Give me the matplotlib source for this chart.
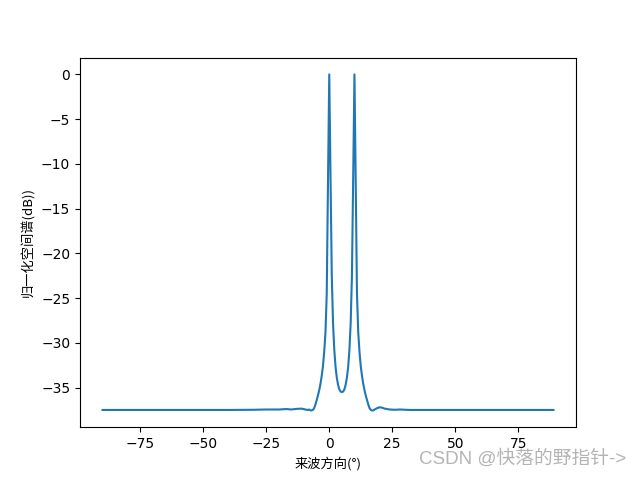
import numpy as np
import matplotlib
matplotlib.use("Agg")
import matplotlib.pyplot as plt

CJK = ['Noto Sans CJK SC', 'DejaVu Sans']

# far-field baseline left of the peaks (deg, dB)
left_deg = [-90, -60, -40, -30, -25, -20, -17, -15, -13, -11, -9.5, -8.5]
left_db = [-37.5, -37.5, -37.5, -37.48, -37.45, -37.45, -37.4, -37.45, -37.38, -37.35, -37.45, -37.5]

# twin peaks at 0 deg and 10 deg, 0.5 deg steps from -8 to 18
peak_deg = [-8, -7.5, -7, -6.5, -6, -5.5, -5, -4.5, -4, -3.5, -3, -2.5, -2, -1.5, -1, -0.5,
            0, 0.5, 1, 1.5, 2, 2.5, 3, 3.5, 4, 4.5, 5, 5.5, 6, 6.5, 7, 7.5, 8, 8.5, 9, 9.5,
            10, 10.5, 11, 11.5, 12, 12.5, 13, 13.5, 14, 14.5, 15, 15.5, 16, 16.5, 17, 17.5, 18]
peak_db = [-37.45, -37.55, -37.55, -37.5, -37.3, -36.9, -36.4, -35.9, -35.3, -34.6, -33.7, -32.6,
           -31.0, -28.8, -24.5, -12.0,
           0.0, -11.5, -22.5, -27.8, -30.8, -32.7, -33.9, -34.7, -35.2, -35.45, -35.5, -35.45,
           -35.2, -34.7, -33.9, -32.7, -30.8, -27.8, -22.5, -11.5,
           0.0, -12.0, -24.5, -28.8, -31.0, -32.6, -33.7, -34.6, -35.3, -35.9, -36.4, -36.9,
           -37.3, -37.5, -37.55, -37.55, -37.45]

# baseline right of the peaks
right_deg = [19, 20, 21, 22, 24, 26, 28, 32, 40, 60, 89]
right_db = [-37.3, -37.2, -37.25, -37.35, -37.45, -37.48, -37.45, -37.5, -37.5, -37.5, -37.5]

theta = np.array(left_deg + peak_deg + right_deg)
spec = np.array(left_db + peak_db + right_db)

fig = plt.figure(figsize=(6.4, 4.8), dpi=100)
plt.plot(theta, spec)
plt.xlabel('来波方向(°)', family=CJK, fontsize=9.5)
plt.ylabel('归一化空间谱(dB))', family=CJK, fontsize=9.5)
fig.text(0.978, 0.025, 'CSDN @快落的野指针->', color='#b4b4b4', fontsize=13.5,
         family=['Liberation Sans', 'Noto Sans CJK SC'], ha='right', va='bottom')
plt.savefig('out.png', dpi=100)
